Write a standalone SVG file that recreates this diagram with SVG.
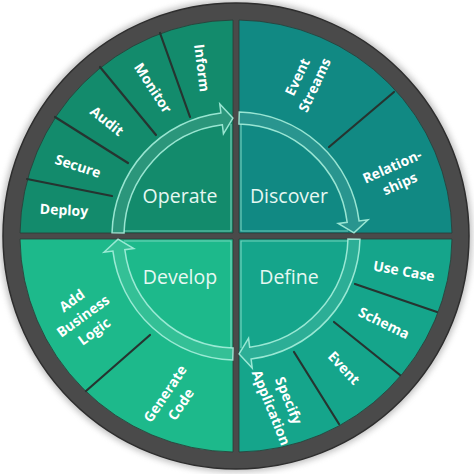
<svg xmlns="http://www.w3.org/2000/svg" width="474" height="474" viewBox="0 0 474 474">
  <defs>
    <filter id="blur" x="-10%" y="-10%" width="120%" height="120%">
      <feGaussianBlur stdDeviation="3"/>
    </filter>
    <path id="arrow" d="M359.96,239.25 A124 124 0 0 1 251.11,359.08 L252.21,368.01 L239.09,353.96 L248.55,338.23 L249.65,347.17 A112 112 0 0 0 347.96,238.93 Z"/>
    <style>
      .quad { stroke: #2b3a35; stroke-width: 0.8; }
      .div { stroke: #263430; stroke-width: 2.2; stroke-linecap: round; fill: none; }
      .edge { stroke: #8fe3cc; stroke-width: 1.2; fill: none; opacity: 0.75; }
      .arr { fill: #ffffff; fill-opacity: 0.1; stroke: #a6eedb; stroke-width: 1.5; stroke-opacity: 0.9; }
      .big { font-family: "Open Sans", "Liberation Sans", sans-serif; font-size: 19.5px; fill: #e6f8f2; text-anchor: middle; }
      .lbl { font-family: "Open Sans", "Liberation Sans", sans-serif; font-size: 14px; font-weight: 700; fill: #ffffff; text-anchor: middle; }
    </style>
  </defs>

  <!-- outer ring -->
  <circle cx="236" cy="236" r="236" fill="#8a8a8a" opacity="0.55" filter="url(#blur)"/>
  <circle cx="236" cy="236" r="233" fill="#4a4a4a" stroke="#2e2e2e" stroke-width="1.5"/>

  <!-- Operate (top-left) -->
  <g id="operate">
    <path class="quad" d="M233,233 L233,20.02 A216 216 0 0 0 20.02,233 Z" fill="#138b6c"/>
    <path class="edge" d="M231,124 L231,231 L124,231"/>
    <line class="div" x1="27" y1="179" x2="112" y2="196"/>
    <line class="div" x1="55" y1="117" x2="128" y2="163"/>
    <line class="div" x1="100" y1="67" x2="156" y2="135"/>
    <line class="div" x1="160" y1="33" x2="190" y2="117"/>
    <text class="big" x="180" y="203">Operate</text>
    <g id="deploy"><text class="lbl" transform="translate(64,210) rotate(3)" y="5">Deploy</text></g>
    <g id="secure"><text class="lbl" transform="translate(78,166) rotate(18)" y="5">Secure</text></g>
    <g id="audit"><text class="lbl" transform="translate(107,121) rotate(39)" y="5">Audit</text></g>
    <g id="monitor"><text class="lbl" transform="translate(153,88) rotate(57)" y="5">Monitor</text></g>
    <g id="inform"><text class="lbl" transform="translate(202,68) rotate(83)" y="5">Inform</text></g>
  </g>

  <!-- Discover (top-right) -->
  <g id="discover">
    <path class="quad" d="M239,233 L239,20.02 A216 216 0 0 1 451.98,233 Z" fill="#118983"/>
    <path class="edge" d="M241,124 L241,231 L348,231"/>
    <line class="div" x1="394" y1="92" x2="329" y2="147"/>
    <text class="big" x="289" y="203">Discover</text>
    <g id="event-streams"><text class="lbl" transform="translate(306,81) rotate(-65)"><tspan x="0" y="-4.5">Event</tspan><tspan x="0" y="14.5">Streams</tspan></text></g>
    <g id="relationships"><text class="lbl" transform="translate(396,175) rotate(-24)"><tspan x="0" y="-4.5">Relation-</tspan><tspan x="0" y="14.5">ships</tspan></text></g>
  </g>

  <!-- Define (bottom-right) -->
  <g id="define">
    <path class="quad" d="M239,239 L451.98,239 A216 216 0 0 1 239,451.98 Z" fill="#15a58b"/>
    <path class="edge" d="M348,241 L241,241 L241,348"/>
    <line class="div" x1="437" y1="312" x2="355" y2="284"/>
    <line class="div" x1="400" y1="375" x2="334" y2="322"/>
    <line class="div" x1="339" y1="424" x2="294" y2="352"/>
    <text class="big" x="289" y="284">Define</text>
    <g id="use-case"><text class="lbl" transform="translate(404,271) rotate(10)" y="5">Use Case</text></g>
    <g id="schema"><text class="lbl" transform="translate(384,323) rotate(26)" y="5">Schema</text></g>
    <g id="event"><text class="lbl" transform="translate(344,368) rotate(47)" y="5">Event</text></g>
    <g id="specify-application"><text class="lbl" transform="translate(280,404) rotate(68)"><tspan x="0" y="-4.5">Specify</tspan><tspan x="0" y="14.5">Application</tspan></text></g>
  </g>

  <!-- Develop (bottom-left) -->
  <g id="develop">
    <path class="quad" d="M233,239 L233,451.98 A216 216 0 0 1 20.02,239 Z" fill="#1db98b"/>
    <path class="edge" d="M124,241 L231,241 L231,348"/>
    <line class="div" x1="86" y1="391" x2="150" y2="335"/>
    <text class="big" x="180" y="284">Develop</text>
    <g id="add-business-logic"><text class="lbl" transform="translate(83,316) rotate(-36)"><tspan x="0" y="-14">Add</tspan><tspan x="0" y="5">Business</tspan><tspan x="0" y="24">Logic</tspan></text></g>
    <g id="generate-code"><text class="lbl" transform="translate(173,399) rotate(-56)"><tspan x="0" y="-4.5">Generate</tspan><tspan x="0" y="14.5">Code</tspan></text></g>
  </g>

  <!-- cycle arrows -->
  <g id="connectors">
    <use href="#arrow" class="arr" transform="rotate(180 236 236)"/>
    <use href="#arrow" class="arr" transform="rotate(270 236 236)"/>
    <use href="#arrow" class="arr"/>
    <use href="#arrow" class="arr" transform="rotate(90 236 236)"/>
  </g>
</svg>
